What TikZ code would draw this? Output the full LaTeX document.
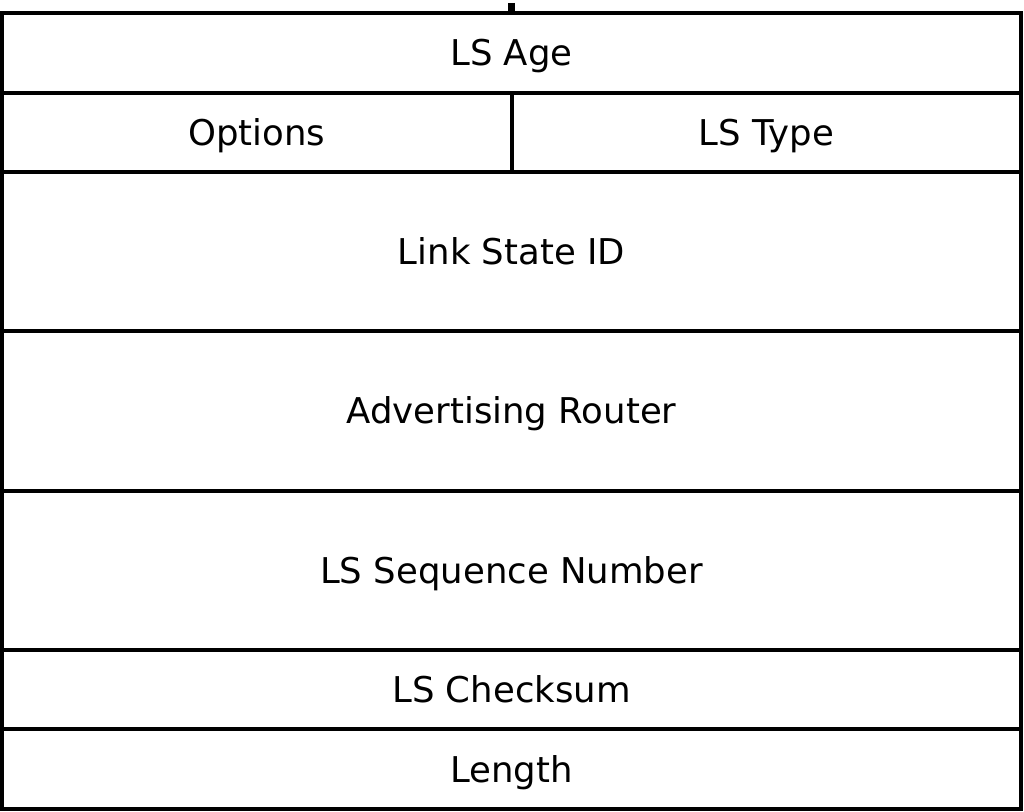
\documentclass[tikz,border=0pt]{standalone}
\usepackage{fontspec}
\setmainfont{DejaVu Sans}
\usetikzlibrary{positioning}

\tikzset{
  field/.style={draw, line width=4pt, inner sep=0pt, outer sep=0pt,
    minimum width=1019pt, minimum height=79.6pt,
    text height=26pt, text depth=0pt,
    font=\fontsize{35.5}{42}\selectfont},
  halffield/.style={field, minimum width=509.5pt},
  dblfield/.style={field, minimum height=159.2pt}
}

\begin{document}
\begin{tikzpicture}[x=1pt,y=1pt]
  \useasboundingbox (0,0) rectangle (1024,811);
  \node[field] (age) at (511.5,758.2) {LS Age};
  \node[halffield, anchor=north west] (opts) at (age.south west) {Options};
  \node[halffield, anchor=north east] (type) at (age.south east) {LS Type};
  \node[dblfield, anchor=north] (lsid) at (opts.south -| age.south) {Link State ID};
  \node[dblfield, below=0pt of lsid] (router) {Advertising Router};
  \node[dblfield, below=0pt of router] (seq) {LS Sequence Number};
  \node[field, below=0pt of seq] (sum) {LS Checksum};
  \node[field, below=0pt of sum] (len) {Length};
  % small tick above the header
  \coordinate (tick) at (511.5,808);
  \draw[line width=6.5pt] (tick) -- (age.north);
\end{tikzpicture}
\end{document}
